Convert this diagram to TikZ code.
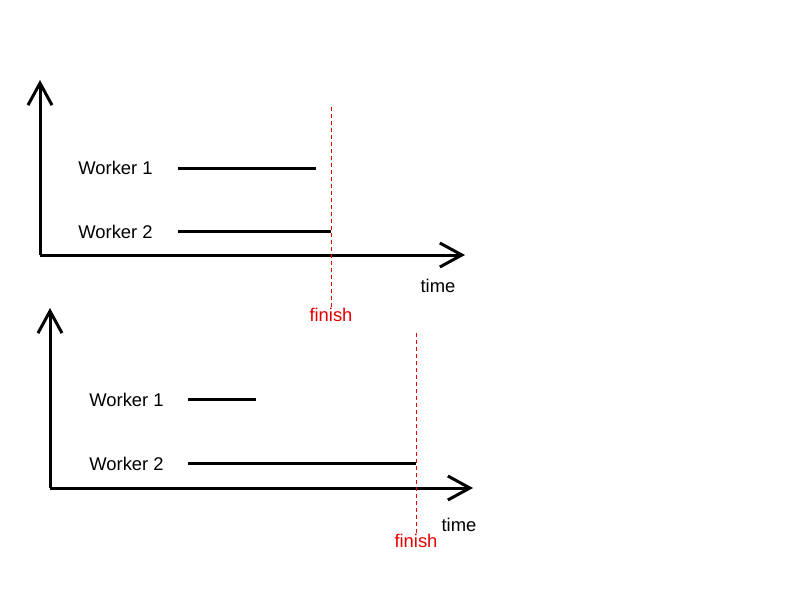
\documentclass[tikz,border=0pt]{standalone}
\usepackage{fontspec}
\setmainfont{Liberation Sans}
\usepackage{xcolor}
\usetikzlibrary{arrows.meta,positioning}
\definecolor{finishred}{RGB}{228,0,0}

\begin{document}
\begin{tikzpicture}[x=0.5pt,y=-0.5pt,>={Straight Barb[length=11pt,width=12pt]},
		axis/.style={->,line width=1.5pt},
		job/.style={line width=1.5pt},
		finishline/.style={finishred,line width=0.5pt,dash pattern=on 2pt off 1.5pt},
		lbl/.style={font=\fontsize{9.2}{11}\selectfont,inner sep=0pt}]
		\useasboundingbox (0,0) rectangle (800,600);

		% upper chart
		\coordinate (o1) at (40,255);
		\coordinate (y1) at (40,80);
		\coordinate (t1) at (465,255);
		\node[lbl,anchor=west] (w11) at (78,168) {Worker 1};
		\node[lbl,anchor=west] (w12) at (78,232) {Worker 2};
		\coordinate (a11) at (178,168);
		\coordinate (b11) at (316,168);
		\coordinate (a12) at (178,231);
		\coordinate (b12) at (331,231);
		\coordinate (f1) at (331,107);
		\node[lbl,finishred] (fin1) at (331,315) {finish};
		\node[lbl] (time1) at (438,286) {time};

		\draw[axis] (o1) -- (y1);
		\draw[axis] (o1) -- (t1);
		\draw[job] (a11) -- (b11);
		\draw[job] (a12) -- (b12);
		\draw[finishline] (f1) -- (fin1.north);

		% lower chart
		\coordinate (o2) at (50,488);
		\coordinate (y2) at (50,308);
		\coordinate (t2) at (473,488);
		\node[lbl,anchor=west] (w21) at (89,400) {Worker 1};
		\node[lbl,anchor=west] (w22) at (89,464) {Worker 2};
		\coordinate (a21) at (188,399);
		\coordinate (b21) at (256,399);
		\coordinate (a22) at (188,463);
		\coordinate (b22) at (416,463);
		\coordinate (f2) at (416,333);
		\node[lbl,finishred] (fin2) at (416,541) {finish};
		\node[lbl] (time2) at (459,525) {time};

		\draw[axis] (o2) -- (y2);
		\draw[axis] (o2) -- (t2);
		\draw[job] (a21) -- (b21);
		\draw[job] (a22) -- (b22);
		\draw[finishline] (f2) -- (fin2.north);
\end{tikzpicture}
\end{document}
